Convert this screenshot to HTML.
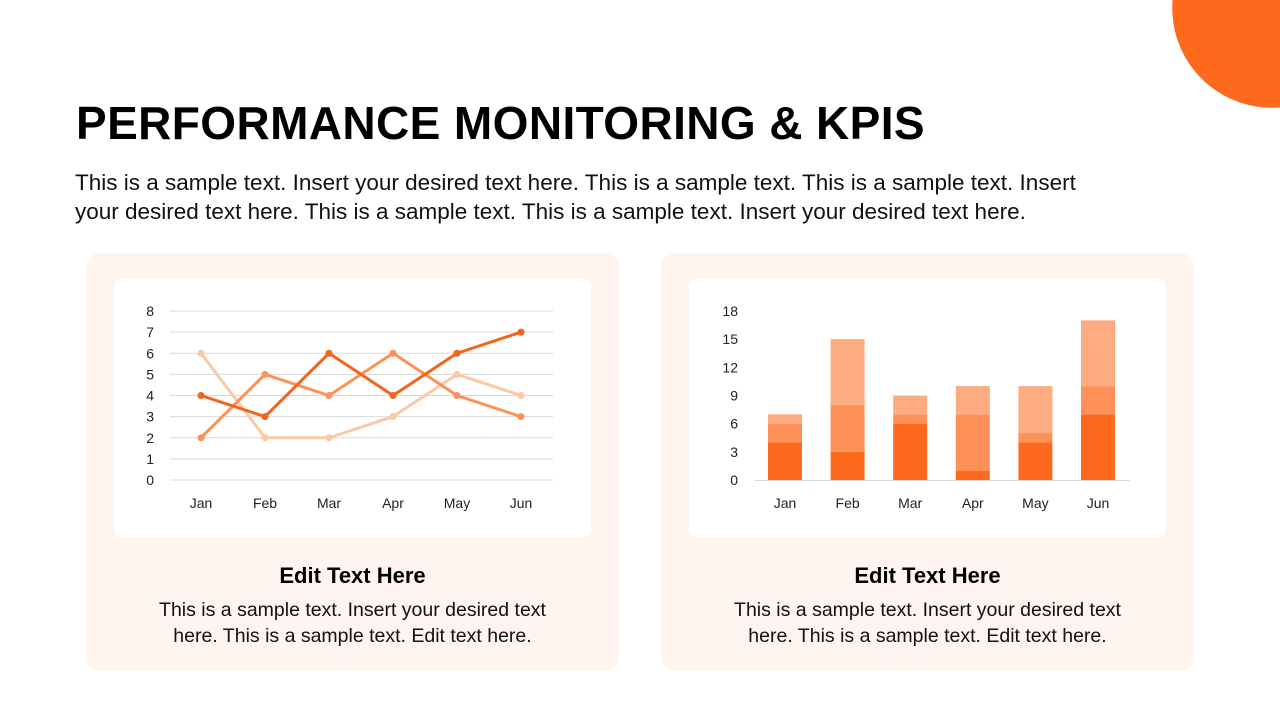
<!DOCTYPE html>
<html><head><meta charset="utf-8">
<style>
body{margin:0;width:1280px;height:720px;overflow:hidden;background:#fff;font-family:"Liberation Sans",sans-serif;position:relative}
.abs{position:absolute}
h1{position:absolute;left:76px;top:96px;margin:0;font-size:46px;font-weight:bold;letter-spacing:0.4px;color:#000}
.intro{left:75px;top:168px;width:1040px;font-size:22.5px;line-height:29px;color:#111}
.panel{background:#fff4ef;border-radius:14px;top:253px;width:533px;height:418px}
.inner{background:#fff;border-radius:8px;top:279px;width:477px;height:258px}
.ptitle{width:533px;text-align:center;top:563px;font-size:22px;font-weight:bold}
.ptext{width:533px;text-align:center;top:597px;font-size:19.5px;line-height:26px;color:#111}
</style></head><body>
<div class="abs" style="left:1172px;top:0;width:108px;height:108px;background:radial-gradient(circle 100px at 100px 8px,#fd6a1e 99.5px,rgba(255,255,255,0) 100px)"></div>
<h1>PERFORMANCE MONITORING &amp; KPIS</h1>
<div class="abs intro">This is a sample text. Insert your desired text here. This is a sample text. This is a sample text. Insert your desired text here. This is a sample text. This is a sample text. Insert your desired text here.</div>

<div class="abs panel" style="left:86px"></div>
<div class="abs inner" style="left:114px"></div>
<div class="abs panel" style="left:661px"></div>
<div class="abs inner" style="left:689px"></div>

<svg class="abs" style="left:0;top:0" width="1280" height="720" id="charts" font-family="Liberation Sans, sans-serif" font-size="14" fill="#222"></svg>

<div class="abs ptitle" style="left:86px">Edit Text Here</div>
<div class="abs ptext" style="left:86px">This is a sample text. Insert your desired text<br>here. This is a sample text. Edit text here.</div>
<div class="abs ptitle" style="left:661px">Edit Text Here</div>
<div class="abs ptext" style="left:661px">This is a sample text. Insert your desired text<br>here. This is a sample text. Edit text here.</div>

<script>
const months = ["Jan","Feb","Mar","Apr","May","Jun"];
const lineA = [4,3,6,4,6,7];
const lineB = [2,5,4,6,4,3];
const lineC = [6,2,2,3,5,4];
const lineTicks = [0,1,2,3,4,5,6,7,8];
const barBottom = [4,3,6,1,4,7];
const barMiddle = [2,5,1,6,1,3];
const barTop = [1,7,2,3,5,7];
const barTicks = [0,3,6,9,12,15,18];

const NS="http://www.w3.org/2000/svg";
const svg=document.getElementById('charts');
function el(tag,attrs,parent){const e=document.createElementNS(NS,tag);for(const k in attrs)e.setAttribute(k,attrs[k]);(parent||svg).appendChild(e);return e;}

const lx=i=>201+i*64, ly=v=>480-v*(169/8);
lineTicks.forEach(t=>{
  const g=el('line',{x1:170,x2:553,y1:ly(t),y2:ly(t),stroke:'#d9d9d9','stroke-width':1});
  
  
  const tx=el('text',{x:154,y:ly(t)+5,'text-anchor':'end'});tx.textContent=t;
  
  
});
months.forEach((m,i)=>{
  const tx=el('text',{x:lx(i),y:508,'text-anchor':'middle'});tx.textContent=m;
  
  
});
[[lineC,'#fcc9a6'],[lineB,'#fd9157'],[lineA,'#f2651c']].forEach(([s,c])=>{
  const p=el('polyline',{points:s.map((v,i)=>lx(i)+','+ly(v)).join(' '),fill:'none',stroke:c,'stroke-width':3,'stroke-linejoin':'round'});
  
  
  s.forEach((v,i)=>{
    const d=el('circle',{cx:lx(i),cy:ly(v),r:3.5,fill:c});
    
    
  });
});

const bx=i=>785+i*62.6, by=v=>480-v*(169/18), bw=34;
barTicks.forEach(t=>{
  const tx=el('text',{x:738,y:by(t)+5,'text-anchor':'end'});tx.textContent=t;
  
  
});
months.forEach((m,i)=>{
  let base=0;
  [[barBottom,'#fd6a1e'],[barMiddle,'#fd9157'],[barTop,'#fdab80']].forEach(([s,c])=>{
    const r=el('rect',{x:bx(i)-bw/2,y:by(base+s[i]),width:bw,height:by(base)-by(base+s[i]),fill:c});
    
    
    base+=s[i];
  });
  const tx=el('text',{x:bx(i),y:508,'text-anchor':'middle'});tx.textContent=m;
  
  
});
const ax=el('line',{x1:755,x2:1130,y1:480.5,y2:480.5,stroke:'#d9d9d9','stroke-width':1});


</script>
</body></html>
